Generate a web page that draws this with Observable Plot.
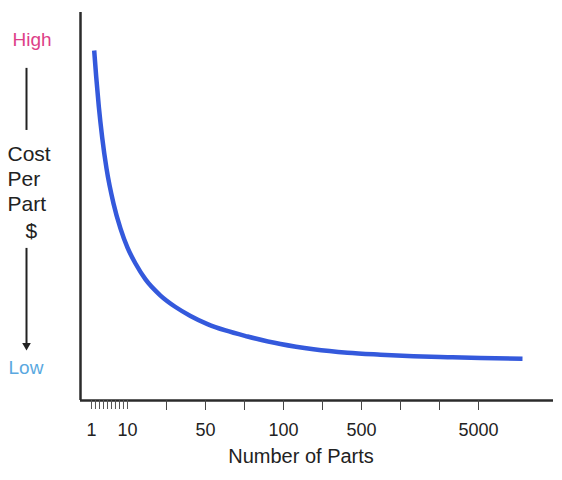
<!DOCTYPE html>
<html>
<head>
<meta charset="utf-8">
<script src="https://cdn.jsdelivr.net/npm/d3@7"></script>
<script src="https://cdn.jsdelivr.net/npm/@observablehq/plot@0.6"></script>
<style>
  html, body { margin: 0; padding: 0; background: #fff; }
  #chart svg { display: block; }
</style>
</head>
<body>
<div id="chart"></div>
<script>
// Schematic x axis: positions are "slots" along the axis (one slot = one major step)
const curveSlot = [0.146, 0.197, 0.264, 0.351, 0.462, 0.641, 0.821, 1.0, 1.205, 1.462, 1.846, 2.231, 2.615, 3.051, 3.513, 4.077, 4.923, 5.769, 6.641, 7.487, 8.333, 9.205, 10.051, 11.128];
const curveCost = [90.2, 83.5, 75.8, 67.8, 59.8, 50.8, 44.3, 39.4, 35.3, 31.2, 27.05, 24.1, 21.8, 19.7, 18.05, 16.5, 14.55, 13.2, 12.3, 11.8, 11.4, 11.15, 10.95, 10.75];

const minorTickSlots = [0.077, 0.179, 0.282, 0.385, 0.487, 0.590, 0.692, 0.795, 0.897, 1.0];
const majorTickSlots = [2, 3, 4, 5, 6, 7, 8, 9, 10];
const tickLabelSlots = [0.077, 1, 3, 5, 7, 10];
const tickLabels = ["1", "10", "50", "100", "500", "5000"];

const xDomain = [-0.205, 11.923];
const yDomain = [0, 100];

const curve = curveSlot.map((s, i) => ({slot: s, cost: curveCost[i]}));

const font = "'Liberation Sans', Arial, sans-serif";

const chart = Plot.plot({
  width: 562,
  height: 480,
  marginLeft: 80,
  marginRight: 9,
  marginTop: 12,
  marginBottom: 80,
  style: {fontFamily: font, background: "#fff", color: "#222"},
  x: {domain: xDomain, axis: null},
  y: {domain: yDomain, axis: null},
  marks: [
    // axes lines
    Plot.ruleX([xDomain[0]], {stroke: "#2b2b2b", strokeWidth: 2.5}),
    Plot.ruleY([0], {stroke: "#2b2b2b", strokeWidth: 2.5}),
    // tick marks
    Plot.axisX({ticks: minorTickSlots, tickSize: 9, tickFormat: () => "", label: null, stroke: "#555", strokeWidth: 1}),
    Plot.axisX({ticks: majorTickSlots, tickSize: 10, tickFormat: () => "", label: null, stroke: "#444", strokeWidth: 1}),
    // tick labels
    Plot.text(tickLabelSlots, {x: d => d, text: (d, i) => tickLabels[i], frameAnchor: "bottom", dy: 35, fontSize: 18, fill: "#222"}),
    Plot.text(["Number of Parts"], {frameAnchor: "bottom", dx: -16, dy: 62, fontSize: 20, fill: "#222"}),
    // left side labels
    Plot.text([93.0], {y: d => d, text: () => "High", frameAnchor: "left", dx: -68, textAnchor: "start", fontSize: 19, fill: "#dd3f88"}),
    Plot.text([8.4], {y: d => d, text: () => "Low", frameAnchor: "left", dx: -72, textAnchor: "start", fontSize: 19, fill: "#5aa8e0"}),
    Plot.text([57.3], {y: d => d, text: () => "Cost\nPer\nPart", frameAnchor: "left", dx: -73, textAnchor: "start", fontSize: 21, lineHeight: 1.19, fill: "#222"}),
    Plot.text([43.6], {y: d => d, text: () => "$", frameAnchor: "left", dx: -55, fontSize: 21, fill: "#222"}),
    Plot.ruleX([xDomain[0]], {y1: 85.6, y2: 69.6, dx: -54, stroke: "#222", strokeWidth: 2}),
    Plot.ruleX([xDomain[0]], {y1: 39.2, y2: 14.5, dx: -54, stroke: "#222", strokeWidth: 2}),
    Plot.dot([14.2], {x: () => xDomain[0], y: d => d, dx: -54, symbol: "triangle", rotate: 180, r: 3.2, fill: "#222", stroke: "none"}),
    // the curve
    Plot.line(curve, {x: "slot", y: "cost", curve: "monotone-x", stroke: "#3459dc", strokeWidth: 4.5, strokeLinecap: "butt"})
  ]
});

document.getElementById("chart").appendChild(chart);
</script>
</body>
</html>
